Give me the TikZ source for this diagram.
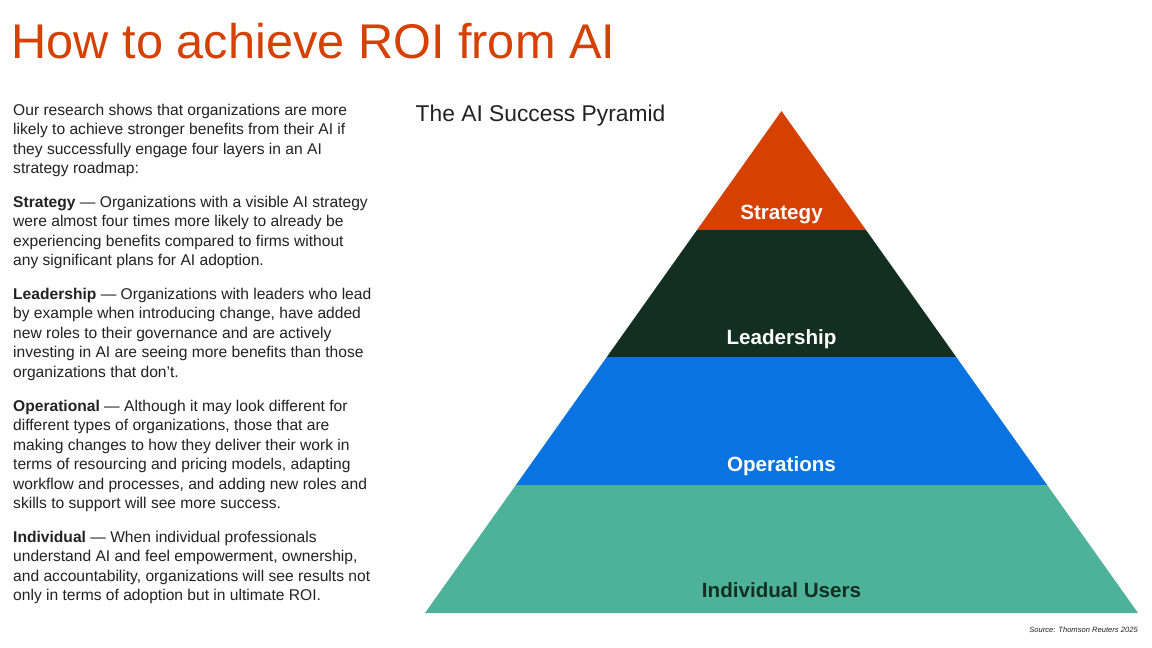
\documentclass[tikz,border=0pt]{standalone}
\usepackage{fontspec}
\setmainfont{Liberation Sans}
\definecolor{troorange}{RGB}{214,64,0}
\definecolor{trodark}{RGB}{19,47,33}
\definecolor{troblue}{RGB}{10,115,226}
\definecolor{troteal}{RGB}{77,178,153}
\definecolor{bodytext}{RGB}{34,34,34}
\begin{document}
\begin{tikzpicture}[x=1pt,y=-1pt,
  bodyline/.style={anchor=base west,inner sep=0pt,text=bodytext,font=\fontsize{15.6}{19.5}\selectfont},
  layerlabel/.style={anchor=base,inner sep=0pt,font=\fontsize{20.6}{24}\selectfont\bfseries},
  layer/.style={draw=none}]
\fill[white] (0,0) rectangle (1152,648);
\useasboundingbox (0,0) rectangle (1152,648);
% title
\node[anchor=base west,inner sep=0pt,text=troorange,font=\fontsize{48.7}{56}\selectfont] (title) at (11.5,58.5) {How to achieve ROI from AI};
% body text
\node[bodyline] (l1) at (13,115) {Our research shows that organizations are more};
\node[bodyline] (l2) at (13,134.5) {likely to achieve stronger benefits from their AI if};
\node[bodyline] (l3) at (13,154) {they successfully engage four layers in an AI};
\node[bodyline] (l4) at (13,173.5) {strategy roadmap:};
\node[bodyline] (l5) at (13,207) {\textbf{Strategy} — Organizations with a visible AI strategy};
\node[bodyline] (l6) at (13,226.5) {were almost four times more likely to already be};
\node[bodyline] (l7) at (13,246) {experiencing benefits compared to firms without};
\node[bodyline] (l8) at (13,265.5) {any significant plans for AI adoption.};
\node[bodyline] (l9) at (13,299) {\textbf{Leadership} — Organizations with leaders who lead};
\node[bodyline] (l10) at (13,318.5) {by example when introducing change, have added};
\node[bodyline] (l11) at (13,338) {new roles to their governance and are actively};
\node[bodyline] (l12) at (13,357.5) {investing in AI are seeing more benefits than those};
\node[bodyline] (l13) at (13,377) {organizations that don’t.};
\node[bodyline] (l14) at (13,411) {\textbf{Operational} — Although it may look different for};
\node[bodyline] (l15) at (13,430.5) {different types of organizations, those that are};
\node[bodyline] (l16) at (13,450) {making changes to how they deliver their work in};
\node[bodyline] (l17) at (13,469.5) {terms of resourcing and pricing models, adapting};
\node[bodyline] (l18) at (13,489) {workflow and processes, and adding new roles and};
\node[bodyline] (l19) at (13,508.5) {skills to support will see more success.};
\node[bodyline] (l20) at (13,542) {\textbf{Individual} — When individual professionals};
\node[bodyline] (l21) at (13,561.5) {understand AI and feel empowerment, ownership,};
\node[bodyline] (l22) at (13,581) {and accountability, organizations will see results not};
\node[bodyline] (l23) at (13,600.5) {only in terms of adoption but in ultimate ROI.};
% pyramid heading
\node[anchor=base west,inner sep=0pt,text=bodytext,font=\fontsize{22.8}{27}\selectfont] (ptitle) at (415.5,121) {The AI Success Pyramid};
% pyramid layers
\fill[troorange] (781.5,111) -- (866,230) -- (697,230) -- cycle;
\fill[trodark] (697,230) -- (866,230) -- (956.2,357) -- (606.8,357) -- cycle;
\fill[troblue] (606.8,357) -- (956.2,357) -- (1047.1,485) -- (515.9,485) -- cycle;
\fill[troteal] (515.9,485) -- (1047.1,485) -- (1138,613) -- (425,613) -- cycle;
\node[layerlabel,text=white] (strategy) at (781.5,219) {Strategy};
\node[layerlabel,text=white] (leadership) at (781.5,344) {Leadership};
\node[layerlabel,text=white] (operations) at (781.5,471) {Operations};
\node[layerlabel,text=trodark] (individual) at (781.5,597) {Individual Users};
% source
\node[anchor=base east,inner sep=0pt,text=bodytext,font=\fontsize{7.6}{9}\selectfont\itshape] (source) at (1138,632) {Source: Thomson Reuters 2025};
\end{tikzpicture}
\end{document}
